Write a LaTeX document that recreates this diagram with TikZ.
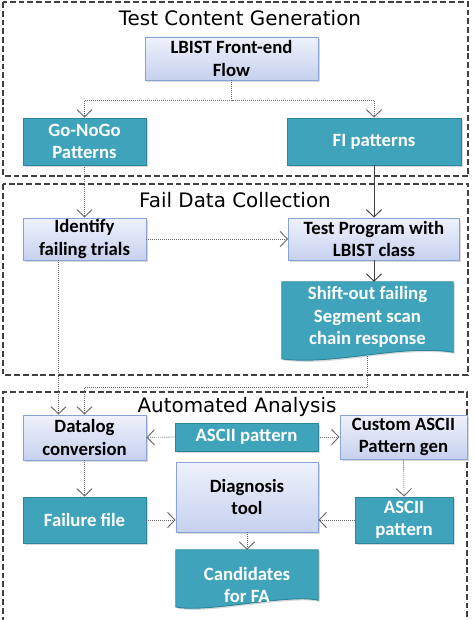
\documentclass[tikz,border=0pt]{standalone}
\usepackage{fontspec}
\usetikzlibrary{arrows.meta,shadows,backgrounds}
\newfontfamily\boxfont{Carlito}
\newfontfamily\titlefont{DejaVu Sans}
\definecolor{lavtop}{HTML}{EFF2FC}
\definecolor{lavbot}{HTML}{C6D1EE}
\definecolor{lavline}{HTML}{8AA3D6}
\definecolor{tealfill}{HTML}{3FA4BB}
\definecolor{tealline}{HTML}{2C869B}
\definecolor{flowgray}{HTML}{6A6A6A}

\begin{document}
\begin{tikzpicture}[
  x={(0.03cm,0cm)},
  y={(0cm,-0.03cm)},
  boxtext/.style={font={\boxfont\bfseries\fontsize{16}{19}\selectfont},
    align=center, inner sep=1pt},
  lav/.style={boxtext, draw=lavline, thick, top color=lavtop, bottom color=lavbot,
    drop shadow={shadow xshift=0.05cm, shadow yshift=-0.05cm, opacity=0.3}},
  teal/.style={boxtext, draw=tealline, thick, fill=tealfill, text=white,
    drop shadow={shadow xshift=0.05cm, shadow yshift=-0.05cm, opacity=0.3}},
  doc/.style={boxtext, text=white},
  docfill/.style={draw=tealline, thick, fill=tealfill,
    drop shadow={shadow xshift=0.05cm, shadow yshift=-0.05cm, opacity=0.3}},
  group/.style={draw=black!75, line width=1.2pt, dash pattern=on 5pt off 2.5pt},
  grouptitle/.style={font={\titlefont\fontsize{17}{20}\selectfont}},
  flow/.style={draw=flowgray, line width=0.7pt, densely dotted,
    -{Straight Barb[length=2.2mm,width=4.6mm,line width=0.8pt]}},
  mainflow/.style={flow, solid, draw=black!75}]
  \useasboundingbox (0,0) rectangle (474,620);

  % groups
  \draw[group] (3,2) rectangle (468,176);
  \draw[group] (3,184) rectangle (468,375);
  \draw[group] (3,640) -- (3,392) -- (467,392) -- (467,640);
  \node[grouptitle] (tcg) at (240,18) {Test Content Generation};
  \node[grouptitle] (fdc) at (235,200) {Fail Data Collection};
  \node[grouptitle] (aa) at (237,407) {Automated Analysis};

  % test content generation
  \node[lav, minimum width=5.19cm, minimum height=1.29cm] (lbist) at (231.5,58.5) {LBIST Front-end\\Flow};
  \node[teal, minimum width=3.69cm, minimum height=1.41cm] (gonogo) at (84.5,141.5) {Go-NoGo\\Patterns};
  \node[teal, minimum width=5.22cm, minimum height=1.41cm] (fi) at (374,141.5) {FI patterns};

  % fail data collection
  \node[lav, minimum width=3.69cm, minimum height=1.26cm] (identify) at (84.5,239) {Identify\\failing trials};
  \node[lav, minimum width=5.13cm, minimum height=1.26cm] (testprog) at (374,239) {Test Program with\\LBIST class};
  \node[doc, minimum width=5.13cm, minimum height=2.1cm] (shift) at (367.5,317) {Shift-out failing\\Segment scan\\chain response};

  % automated analysis
  \node[lav, minimum width=3.69cm, minimum height=1.35cm] (datalog) at (84.5,437.5) {Datalog\\conversion};
  \node[teal, minimum width=4.29cm, minimum height=0.84cm] (ascii) at (246.5,437) {ASCII pattern};
  \node[lav, minimum width=3.81cm, minimum height=1.32cm] (custom) at (403.5,437) {Custom ASCII\\Pattern gen};
  \node[teal, minimum width=3.69cm, minimum height=1.38cm] (failure) at (84.5,520) {Failure file};
  \node[lav, minimum width=4.26cm, minimum height=2.1cm] (diag) at (247,497) {Diagnosis\\tool};
  \node[teal, minimum width=2.94cm, minimum height=1.38cm] (asciir) at (404,520) {ASCII\\pattern};
  \node[doc, minimum width=4.26cm, minimum height=2.1cm] (cand) at (247,585) {Candidates\\for FA};

  \begin{pgfonlayer}{background}
    \path[docfill] (shift.north west) -- (shift.north east) -- ([yshift=0cm]shift.south east)
      .. controls ([xshift=-1.6cm,yshift=0.25cm]shift.south east) and ([xshift=1.6cm,yshift=-0.4cm]shift.south west)
      .. ([yshift=-0.2cm]shift.south west) -- cycle;
    \path[docfill] (cand.north west) -- (cand.north east) -- ([yshift=0.6cm]cand.south east)
      .. controls ([xshift=-0.84cm,yshift=0.81cm]cand.south east) and ([xshift=0.87cm,yshift=0.2cm]cand.south west)
      .. ([yshift=0.4cm]cand.south west) -- cycle;
  \end{pgfonlayer}

  % connectors
  \draw[flow] (lbist.south) -- ++(0,20) -| (gonogo.north);
  \draw[flow] (lbist.south) -- ++(0,20) -| (fi.north);
  \draw[flow] (gonogo.south) -- (identify.north);
  \draw[mainflow] (fi.south) -- (testprog.north);
  \draw[flow] (identify.east) -- (testprog.west);
  \draw[mainflow] (testprog.south) -- (testprog.south |- shift.north);
  \draw[flow] ([yshift=-0.12cm]shift.south) -- ++(0,31) -| (datalog.north);
  \draw[flow] ([xshift=-0.78cm]identify.south) -- ([xshift=-0.78cm]datalog.north);
  \draw[flow] (ascii.west) -- (datalog.east);
  \draw[flow] (ascii.east) -- (custom.west);
  \draw[flow] (datalog.south) -- (failure.north);
  \draw[flow] (custom.south) -- (asciir.north);
  \draw[flow] (failure.east) -- (failure.east -| diag.west);
  \draw[flow] (asciir.west) -- (asciir.west -| diag.east);
  \draw[flow] (diag.south) -- (cand.north);
\end{tikzpicture}
\end{document}
